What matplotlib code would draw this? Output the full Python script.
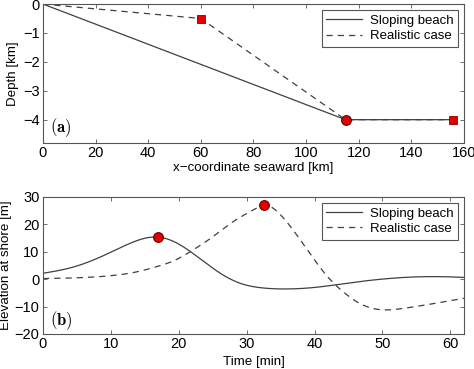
import matplotlib
matplotlib.use("Agg")
import matplotlib.pyplot as plt
import numpy as np

plt.rcParams['font.family'] = ['Liberation Sans', 'DejaVu Sans']
plt.rcParams['mathtext.fontset'] = 'cm'

# Panel (a): bathymetry profiles
slope_x = [0, 115, 156]
slope_depth = [0, -4, -4]
real_x = [0, 60, 115, 156]
real_depth = [0, -0.5, -4, -4]
square_x = [60, 156]
square_depth = [-0.5, -4]
circle_x = [115]
circle_depth = [-4]

# Panel (b): elevation at shore
slope_t = [0, 4.5, 9.4, 12.8, 16.9, 20.1, 22.6, 26, 29, 31.9, 35.3, 40.2, 45.1, 50, 55, 59.9, 62]
slope_eta = [2.1, 4.4, 9.1, 13.0, 15.3, 12.6, 8.4, 2.3, -1.5, -3.1, -3.6, -3.0, -1.4, 0.0, 0.8, 0.8, 0.6]
real_t = [0, 9.4, 14.3, 16.7, 19.2, 22.1, 25, 28, 31.4, 32.5, 34.4, 36.8, 39.3, 41.7, 44.2, 46.6, 50, 53, 56.9, 62]
real_eta = [0.2, 1.1, 2.9, 4.5, 6.6, 10.6, 15.4, 20.9, 25.8, 27.0, 24.8, 18.0, 9.4, 1.5, -4.6, -8.8, -11.2, -10.7, -9.2, -7.0]
peak_t = [16.9, 32.5]
peak_eta = [15.3, 27.0]

line_col = '#404040'
red = '#e30000'


def spline(x, y, n=500):
    """Natural cubic spline through the read points."""
    x = np.asarray(x, float); y = np.asarray(y, float)
    k = len(x); h = np.diff(x)
    A = np.zeros((k, k)); b = np.zeros(k)
    A[0, 0] = A[-1, -1] = 1
    for i in range(1, k - 1):
        A[i, i - 1] = h[i - 1]; A[i, i] = 2 * (h[i - 1] + h[i]); A[i, i + 1] = h[i]
        b[i] = 6 * ((y[i + 1] - y[i]) / h[i] - (y[i] - y[i - 1]) / h[i - 1])
    M = np.linalg.solve(A, b)
    xs = np.linspace(x[0], x[-1], n)
    idx = np.clip(np.searchsorted(x, xs) - 1, 0, k - 2)
    xi, xj, hi = x[idx], x[idx + 1], h[idx]
    ys = (M[idx] * (xj - xs) ** 3 / (6 * hi) + M[idx + 1] * (xs - xi) ** 3 / (6 * hi)
          + (y[idx] / hi - M[idx] * hi / 6) * (xj - xs)
          + (y[idx + 1] / hi - M[idx + 1] * hi / 6) * (xs - xi))
    return xs, ys


fig = plt.figure(figsize=(4.74, 3.69), dpi=100)
ax1 = fig.add_axes([0.0907, 0.613, 0.888, 0.376])
ax2 = fig.add_axes([0.0907, 0.0949, 0.888, 0.372])

for ax in (ax1, ax2):
    ax.tick_params(direction='in', top=True, right=True, labelsize=10.5, length=3,
                   width=0.6, color='#555555', pad=2.5)
    for s in ax.spines.values():
        s.set_color('#555555')
        s.set_linewidth(0.8)

ax1.plot(slope_x, slope_depth, '-', color=line_col, lw=0.9, label='Sloping beach')
ax1.plot(real_x, real_depth, '--', color=line_col, lw=0.9, dashes=(5, 4), label='Realistic case')
ax1.plot(square_x, square_depth, 's', color=red, mec='#800000', mew=0.6, ms=5.5)
ax1.plot(circle_x, circle_depth, 'o', color=red, mec='#600000', mew=0.8, ms=7)
ax1.set_xlim(0, 160)
ax1.set_ylim(-4.8, 0)
ax1.set_xticks(np.arange(0, 161, 20))
ax1.set_yticks([0, -1, -2, -3, -4])
ax1.set_xlabel('x\u2212coordinate seaward [km]', fontsize=9.6)
ax1.xaxis.set_label_coords(0.5, -0.14)
ax1.set_ylabel('Depth [km]', fontsize=9.6)
ax1.yaxis.set_label_coords(-0.058, 0.5)
ax1.text(0.017, 0.106, r'$\mathbf{(a)}$', transform=ax1.transAxes, fontsize=12, va='center')
leg1 = ax1.legend(loc='upper right', fontsize=9.5, handlelength=2.7, borderpad=0.35,
                  labelspacing=0.25, fancybox=False, edgecolor='#555555', framealpha=1,
                  borderaxespad=0.45, handletextpad=0.6)
leg1.get_frame().set_linewidth(0.8)

xs, ys = spline(slope_t, slope_eta)
ax2.plot(xs, ys, '-', color=line_col, lw=0.9, label='Sloping beach')
xr, yr = spline(real_t, real_eta)
ax2.plot(xr, yr, '--', color=line_col, lw=0.9, dashes=(5, 4), label='Realistic case')
ax2.plot(peak_t, peak_eta, 'o', color=red, mec='#600000', mew=0.8, ms=7)
ax2.set_xlim(0, 62)
ax2.set_ylim(-20, 30)
ax2.set_xticks(np.arange(0, 61, 10))
ax2.set_yticks(np.arange(-20, 31, 10))
ax2.set_xlabel('Time [min]', fontsize=9.6)
ax2.xaxis.set_label_coords(0.5, -0.16)
ax2.set_ylabel('Elevation at shore [m]', fontsize=9.6)
ax2.yaxis.set_label_coords(-0.073, 0.5)
ax2.text(0.017, 0.095, r'$\mathbf{(b)}$', transform=ax2.transAxes, fontsize=12, va='center')
leg2 = ax2.legend(loc='upper right', fontsize=9.5, handlelength=2.7, borderpad=0.35,
                  labelspacing=0.25, fancybox=False, edgecolor='#555555', framealpha=1,
                  borderaxespad=0.45, handletextpad=0.6)
leg2.get_frame().set_linewidth(0.8)

fig.savefig('out.png', dpi=100)
